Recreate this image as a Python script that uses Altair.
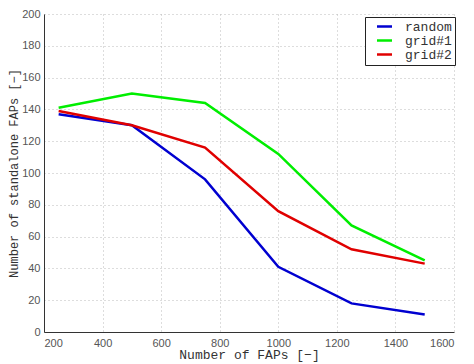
import altair as alt
import pandas as pd

faps = [250, 500, 750, 1000, 1250, 1500]
random_vals = [137, 130, 96, 41, 18, 11]
grid1_vals = [141, 150, 144, 112, 67, 45]
grid2_vals = [139, 130, 116, 76, 52, 43]
series_names = ["random", "grid#1", "grid#2"]
series_colors = ["#0000D0", "#00EE00", "#E00000"]

rows = []
for name, vals in zip(series_names, [random_vals, grid1_vals, grid2_vals]):
    for x, y in zip(faps, vals):
        rows.append({"faps": x, "value": y, "series": name})
df = pd.DataFrame(rows)

chart = alt.Chart(df).mark_line(strokeWidth=2.5).encode(
    x=alt.X("faps:Q", title="Number of FAPs [−]",
            scale=alt.Scale(domain=[200, 1600], nice=False),
            axis=alt.Axis(values=list(range(200, 1601, 200)), format="d")),
    y=alt.Y("value:Q", title="Number of standalone FAPs [−]",
            scale=alt.Scale(domain=[0, 200], nice=False),
            axis=alt.Axis(values=list(range(0, 201, 20)), format="d")),
    color=alt.Color("series:N", sort=series_names,
                    scale=alt.Scale(domain=series_names, range=series_colors),
                    legend=alt.Legend(title=None, orient="none", legendX=321, legendY=3,
                                      symbolType="M-1.5,0H1.5", symbolStrokeWidth=2.5, symbolSize=100,
                                      labelFont="Liberation Mono", labelFontSize=13, labelColor="#333",
                                      strokeColor="#222", fillColor="white", padding=3,
                                      rowPadding=0, labelOffset=14, symbolOffset=10)),
).properties(
    width=410, height=318,
    autosize=alt.AutoSizeParams(type="none"),
    padding={"left": 36, "top": 6, "right": 12, "bottom": 30},
).configure_view(stroke=None).configure_axis(
    grid=True, gridColor="#bbbbbb", gridDash=[1, 3], gridWidth=1,
    domainColor="#333", domainWidth=1,
    ticks=False,
    labelFont="Liberation Sans", labelFontSize=11, labelColor="#555",
    titleFont="Liberation Mono", titleFontSize=13, titleFontWeight="normal", titleColor="#333",
).configure_axisX(labelPadding=5, titlePadding=0).configure_axisY(labelPadding=4, titlePadding=1, titleFontSize=12)

chart.save("out.html", embed_options={"renderer": "svg", "actions": False})
